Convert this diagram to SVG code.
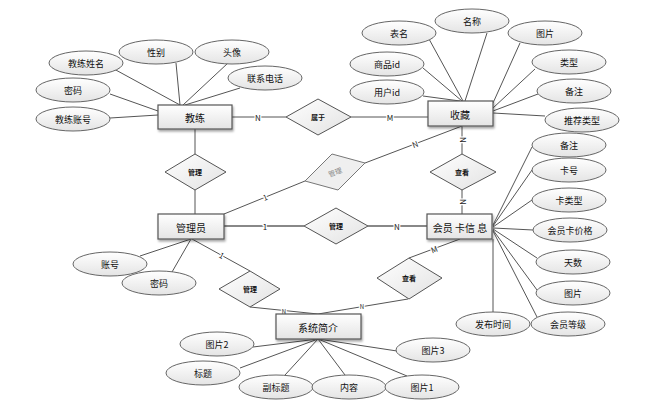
<svg xmlns="http://www.w3.org/2000/svg" width="668" height="418" viewBox="0 0 668 418">
<defs>
<linearGradient id="g" x1="0" y1="0" x2="0" y2="1"><stop offset="0" stop-color="#ffffff"/><stop offset="1" stop-color="#e4e4e4"/></linearGradient>
<linearGradient id="gd" x1="0" y1="0" x2="1" y2="1"><stop offset="0" stop-color="#ffffff"/><stop offset="1" stop-color="#e2e2e2"/></linearGradient>
<filter id="sh" x="-10%" y="-10%" width="130%" height="140%"><feOffset dx="1" dy="1.5" in="SourceAlpha" result="o"/><feGaussianBlur in="o" stdDeviation="0.8" result="b"/><feColorMatrix in="b" type="matrix" values="0 0 0 0 0  0 0 0 0 0  0 0 0 0 0  0 0 0 0.35 0" result="s"/><feMerge><feMergeNode in="s"/><feMergeNode in="SourceGraphic"/></feMerge></filter>
</defs>
<style>
text{font-family:"Noto Sans CJK SC","Liberation Sans",sans-serif;fill:#111;text-anchor:middle;dominant-baseline:central}
.e{fill:url(#g);stroke:#666;stroke-width:1}
.r{fill:url(#g);stroke:#555;stroke-width:1.2;filter:url(#sh)}
.d{fill:url(#gd);stroke:#555;stroke-width:1}
.dg{fill:#efefef;stroke:#777;stroke-width:1}
.t{font-size:9px}
.rt{font-size:10px}
.dt{font-size:7px;font-weight:bold}
.l{stroke:#555;stroke-width:1;fill:none}
.lt{stroke:#888;stroke-width:2;fill:none}
.lb{font-size:8px;fill:#222;stroke:#fff;stroke-width:2.5;paint-order:stroke}
</style>
<g id="connectors">
<line class="l" x1="114" y1="69" x2="180" y2="105"/>
<line class="l" x1="176" y1="63" x2="180" y2="105"/>
<line class="l" x1="228" y1="63" x2="183" y2="105"/>
<line class="l" x1="240" y1="88" x2="185" y2="105"/>
<line class="l" x1="110" y1="94" x2="158" y2="111"/>
<line class="l" x1="110" y1="118" x2="158" y2="115"/>
<line class="l" x1="429" y1="39" x2="463" y2="101"/>
<line class="l" x1="487" y1="33" x2="465" y2="101"/>
<line class="l" x1="423" y1="68" x2="462" y2="101"/>
<line class="l" x1="423" y1="96" x2="460" y2="101"/>
<line class="l" x1="520" y1="43" x2="493" y2="103"/>
<line class="l" x1="535" y1="69" x2="493" y2="108"/>
<line class="l" x1="538" y1="94" x2="493" y2="111"/>
<line class="l" x1="545" y1="116" x2="493" y2="113"/>
<line class="l" x1="532" y1="147" x2="493" y2="225"/>
<line class="l" x1="532" y1="170" x2="493" y2="226"/>
<line class="l" x1="532" y1="200" x2="493" y2="227"/>
<line class="l" x1="533" y1="230" x2="493" y2="228"/>
<line class="l" x1="537" y1="258" x2="493" y2="229"/>
<line class="l" x1="537" y1="290" x2="493" y2="230"/>
<line class="l" x1="537" y1="317" x2="493" y2="231"/>
<line class="l" x1="493" y1="312" x2="493" y2="239"/>
<line class="l" x1="140" y1="256" x2="191" y2="239"/>
<line class="l" x1="172" y1="272" x2="191" y2="239"/>
<line class="l" x1="253" y1="347" x2="318" y2="339"/>
<line class="l" x1="240" y1="368" x2="318" y2="339"/>
<line class="l" x1="285" y1="375" x2="318" y2="339"/>
<line class="l" x1="345" y1="375" x2="318" y2="339"/>
<line class="l" x1="407" y1="376" x2="318" y2="339"/>
<line class="l" x1="397" y1="351" x2="318" y2="339"/>
<line class="l" x1="232" y1="117" x2="286" y2="117"/>
<line class="l" x1="351" y1="117" x2="428" y2="117"/>
<line class="l" x1="195" y1="129" x2="195" y2="154"/>
<line class="l" x1="195" y1="190" x2="195" y2="214"/>
<line class="lt" x1="224" y1="226" x2="304" y2="226"/>
<line class="lt" x1="368" y1="226" x2="427" y2="226"/>
<line class="l" x1="224" y1="214" x2="305" y2="181"/>
<line class="l" x1="365" y1="163" x2="462" y2="126"/>
<line class="l" x1="462" y1="126" x2="462" y2="154"/>
<line class="l" x1="462" y1="190" x2="462" y2="214"/>
<line class="l" x1="460" y1="239" x2="409" y2="258"/>
<line class="l" x1="408" y1="299" x2="318" y2="314"/>
<line class="l" x1="192" y1="239" x2="250" y2="271"/>
<line class="l" x1="250" y1="307" x2="318" y2="314"/>
<text class="lb" x="258" y="117">N</text>
<text class="lb" x="390" y="117">M</text>
<text class="lb" x="265" y="226">1</text>
<text class="lb" x="397" y="226">N</text>
<text class="lb" x="265" y="197" transform="rotate(-22 265 197)">1</text>
<text class="lb" x="415" y="144" transform="rotate(-21 415 144)">N</text>
<text class="lb" x="463" y="140" transform="rotate(90 463 140)">N</text>
<text class="lb" x="463" y="202" transform="rotate(90 463 202)">N</text>
<text class="lb" x="434" y="249" transform="rotate(-20 434 249)">M</text>
<text class="lb" x="222" y="255" transform="rotate(29 222 255)">1</text>
<text class="lb" x="284" y="311" style="font-size:6px">N</text>
<text class="lb" x="362" y="306" style="font-size:6px">N</text>
</g>
<g id="node-jiaolian"><rect class="r" x="158" y="105" width="74" height="24"/><text class="rt" x="195" y="117">教练</text></g>
<g id="node-shoucang"><rect class="r" x="428" y="101" width="65" height="25"/><text class="rt" x="460" y="114">收藏</text></g>
<g id="node-guanliyuan"><rect class="r" x="158" y="214" width="66" height="25"/><text class="rt" x="191" y="227">管理员</text></g>
<g id="node-huiyuanka"><rect class="r" x="427" y="214" width="65" height="25"/><text class="rt" x="460" y="227">会员 卡信 息</text></g>
<g id="node-xitong"><rect class="r" x="276" y="314" width="85" height="25"/><text class="rt" x="318" y="327">系统简介</text></g>
<g id="rel-shuyu"><polygon class="d" points="286,117 318,99 351,117 318,135"/><text class="dt" x="318" y="117">属于</text></g>
<g id="rel-guanli1"><polygon class="d" points="165,172 195,154 226,172 195,190"/><text class="dt" x="195" y="172">管理</text></g>
<g id="rel-guanli2"><polygon class="dg" points="305,181 332,154 365,163 338,190"/><text class="dt" x="335" y="172" style="fill:#888;font-weight:normal" transform="rotate(-20 335 172)">管理</text></g>
<g id="rel-guanli3"><polygon class="d" points="304,226 336,208 368,226 336,244"/><text class="dt" x="336" y="226">管理</text></g>
<g id="rel-chakan1"><polygon class="d" points="430,172 462,154 496,172 462,190"/><text class="dt" x="462" y="172">查看</text></g>
<g id="rel-chakan2"><polygon class="d" points="377,278 409,258 442,278 409,299"/><text class="dt" x="409" y="278">查看</text></g>
<g id="rel-guanli4"><polygon class="d" points="219,289 250,271 280,289 250,307"/><text class="dt" x="250" y="289">管理</text></g>
<g id="attr-jiaolian-name"><ellipse class="e" cx="86" cy="63" rx="37" ry="12"/><text class="t" x="86" y="63">教练姓名</text></g>
<g id="attr-sex"><ellipse class="e" cx="156" cy="52" rx="37" ry="12"/><text class="t" x="156" y="52">性别</text></g>
<g id="attr-avatar"><ellipse class="e" cx="232" cy="52" rx="37" ry="12"/><text class="t" x="232" y="52">头像</text></g>
<g id="attr-phone"><ellipse class="e" cx="265" cy="78" rx="37" ry="12"/><text class="t" x="265" y="78">联系电话</text></g>
<g id="attr-pwd1"><ellipse class="e" cx="73" cy="90" rx="37" ry="12"/><text class="t" x="73" y="90">密码</text></g>
<g id="attr-account1"><ellipse class="e" cx="73" cy="119" rx="37" ry="12"/><text class="t" x="73" y="119">教练账号</text></g>
<g id="attr-table"><ellipse class="e" cx="399" cy="33" rx="37" ry="12"/><text class="t" x="399" y="33">表名</text></g>
<g id="attr-mingcheng"><ellipse class="e" cx="472" cy="21" rx="37" ry="12"/><text class="t" x="472" y="21">名称</text></g>
<g id="attr-pic1"><ellipse class="e" cx="545" cy="33" rx="37" ry="12"/><text class="t" x="545" y="33">图片</text></g>
<g id="attr-goodsid"><ellipse class="e" cx="387" cy="64" rx="37" ry="12"/><text class="t" x="387" y="64">商品id</text></g>
<g id="attr-userid"><ellipse class="e" cx="387" cy="92" rx="37" ry="12"/><text class="t" x="387" y="92">用户id</text></g>
<g id="attr-type"><ellipse class="e" cx="569" cy="62" rx="37" ry="12"/><text class="t" x="569" y="62">类型</text></g>
<g id="attr-note1"><ellipse class="e" cx="574" cy="91" rx="37" ry="12"/><text class="t" x="574" y="91">备注</text></g>
<g id="attr-rectype"><ellipse class="e" cx="582" cy="120" rx="37" ry="12"/><text class="t" x="582" y="120">推荐类型</text></g>
<g id="attr-note2"><ellipse class="e" cx="569" cy="145" rx="37" ry="12"/><text class="t" x="569" y="145">备注</text></g>
<g id="attr-cardno"><ellipse class="e" cx="569" cy="170" rx="37" ry="12"/><text class="t" x="569" y="170">卡号</text></g>
<g id="attr-cardtype"><ellipse class="e" cx="569" cy="200" rx="37" ry="12"/><text class="t" x="569" y="200">卡类型</text></g>
<g id="attr-cardprice"><ellipse class="e" cx="570" cy="230" rx="37" ry="12"/><text class="t" x="570" y="230">会员卡价格</text></g>
<g id="attr-days"><ellipse class="e" cx="573" cy="262" rx="37" ry="12"/><text class="t" x="573" y="262">天数</text></g>
<g id="attr-pic2"><ellipse class="e" cx="573" cy="293" rx="37" ry="12"/><text class="t" x="573" y="293">图片</text></g>
<g id="attr-level"><ellipse class="e" cx="568" cy="324" rx="37" ry="12"/><text class="t" x="568" y="324">会员等级</text></g>
<g id="attr-pubtime"><ellipse class="e" cx="493" cy="324" rx="37" ry="12"/><text class="t" x="493" y="324">发布时间</text></g>
<g id="attr-account2"><ellipse class="e" cx="110" cy="264" rx="37" ry="12"/><text class="t" x="110" y="264">账号</text></g>
<g id="attr-pwd2"><ellipse class="e" cx="159" cy="283" rx="37" ry="12"/><text class="t" x="159" y="283">密码</text></g>
<g id="attr-img2"><ellipse class="e" cx="217" cy="344" rx="37" ry="12"/><text class="t" x="217" y="344">图片2</text></g>
<g id="attr-title"><ellipse class="e" cx="203" cy="373" rx="37" ry="12"/><text class="t" x="203" y="373">标题</text></g>
<g id="attr-subtitle"><ellipse class="e" cx="276" cy="387" rx="37" ry="12"/><text class="t" x="276" y="387">副标题</text></g>
<g id="attr-content"><ellipse class="e" cx="349" cy="387" rx="37" ry="12"/><text class="t" x="349" y="387">内容</text></g>
<g id="attr-img1"><ellipse class="e" cx="422" cy="387" rx="37" ry="12"/><text class="t" x="422" y="387">图片1</text></g>
<g id="attr-img3"><ellipse class="e" cx="433" cy="350" rx="37" ry="12"/><text class="t" x="433" y="350">图片3</text></g>
</svg>
